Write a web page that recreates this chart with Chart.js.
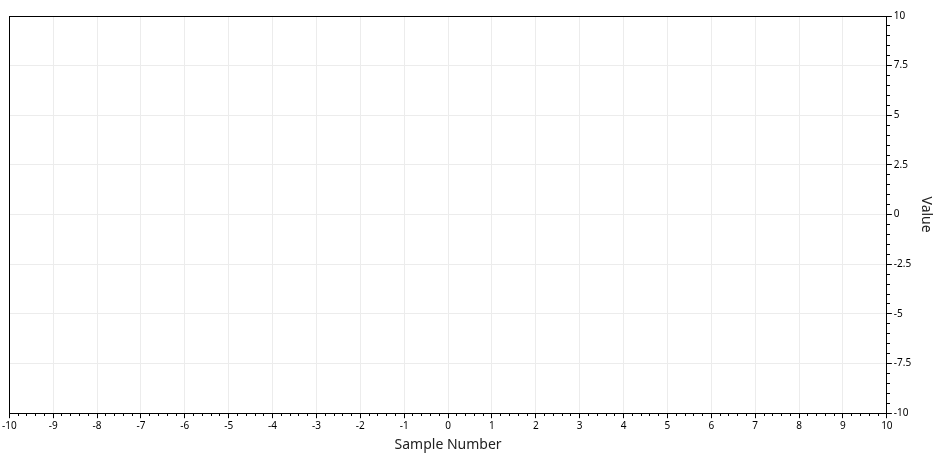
<!DOCTYPE html>
<html>
<head>
<meta charset="utf-8">
<script src="https://cdn.jsdelivr.net/npm/chart.js@4/dist/chart.umd.min.js"></script>
<style>
  html, body { margin: 0; padding: 0; background: #fff; }
  #wrap { width: 940px; height: 463px; position: relative; }
</style>
</head>
<body>
<div id="wrap"><canvas id="chart"></canvas></div>
<script>
  // ── Data (the reference plot holds no samples) ──────────
  const sampleNumbers = [];
  const sampleValues  = [];
  const xRange = [-10, 10];
  const yRange = [-10, 10];
  const xMajorStep = 1,   xMinorStep = 0.2;
  const yMajorStep = 2.5, yMinorStep = 0.5;

  const FONT  = "'Segoe UI', 'Noto Sans', sans-serif";
  const GRID  = '#ececec';
  const INK   = '#000';

  const points = sampleNumbers.map((x, i) => ({ x, y: sampleValues[i] }));

  // axis that only paints tick marks / border, placed on the chart area edge
  function edgeAxis(axis, pos, step, tickLen, showBorder) {
    return {
      type: 'linear', axis, position: pos,
      min: axis === 'x' ? xRange[0] : yRange[0],
      max: axis === 'x' ? xRange[1] : yRange[1],
      ticks: { display: false, stepSize: step },
      grid: { drawOnChartArea: false, drawTicks: tickLen !== 0, tickLength: tickLen, tickColor: INK, tickWidth: 1 },
      border: { display: showBorder, color: INK, width: 1 }
    };
  }

  new Chart(document.getElementById('chart'), {
    type: 'scatter',
    data: {
      datasets: [{ label: 'Value', data: points, borderColor: '#1f77b4', backgroundColor: '#1f77b4' }]
    },
    options: {
      responsive: true,
      maintainAspectRatio: false,
      animation: false,
      layout: { padding: { left: 9, top: 16, right: 2, bottom: 10 } },
      plugins: { legend: { display: false }, tooltip: { enabled: false } },
      scales: {
        x: {
          type: 'linear', position: 'bottom',
          min: xRange[0], max: xRange[1],
          ticks: { stepSize: xMajorStep, color: INK, font: { family: FONT, size: 10 }, padding: 2, maxRotation: 0, autoSkip: false },
          grid: { color: GRID, lineWidth: 1, tickLength: 5, tickColor: INK },
          border: { display: true, color: INK, width: 1 },
          title: { display: true, text: 'Sample Number', color: '#222', font: { family: FONT, size: 14 }, padding: { top: 2, bottom: 0 } }
        },
        y: {
          type: 'linear', position: 'right',
          min: yRange[0], max: yRange[1],
          ticks: { stepSize: yMajorStep, color: INK, font: { family: FONT, size: 10 }, padding: 2 },
          grid: { color: GRID, lineWidth: 1, tickLength: 5, tickColor: INK },
          border: { display: true, color: INK, width: 1 },
          title: { display: true, text: 'Value', color: '#222', font: { family: FONT, size: 14 }, padding: { top: 4, bottom: 4 } }
        },
        xMinor: edgeAxis('x', { y: yRange[0] }, xMinorStep, 3, false),
        yMinor: edgeAxis('y', { x: xRange[1] }, yMinorStep, -3, false),
        xTop:   edgeAxis('x', { y: yRange[1] }, xMajorStep, 0, true),
        yLeft:  edgeAxis('y', { x: xRange[0] }, yMajorStep, 0, true)
      }
    }
  });
</script>
</body>
</html>
